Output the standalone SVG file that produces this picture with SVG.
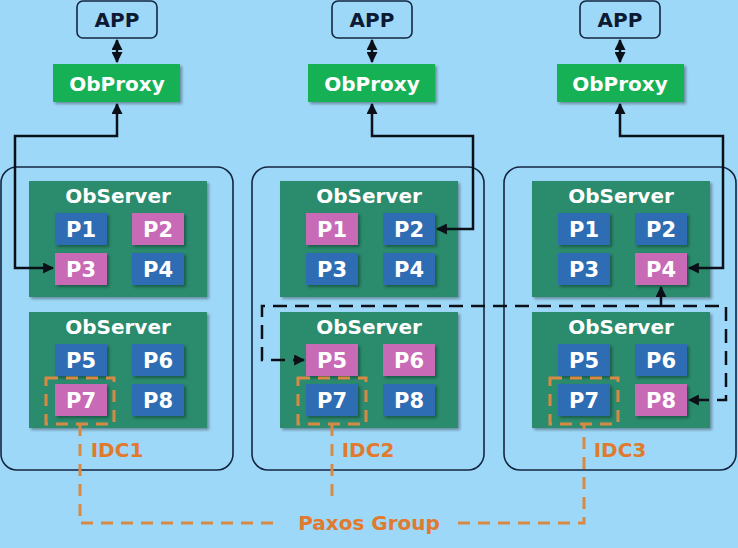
<svg xmlns="http://www.w3.org/2000/svg" width="738" height="548" viewBox="0 0 738 548">
<style>
.t{font-family:"DejaVu Sans","Verdana",sans-serif;font-weight:bold;font-size:20px;text-anchor:middle}
.p{font-size:21px}
.w{fill:#ffffff}
.app{fill:#9ed8f8;stroke:#142540;stroke-width:1.6}
.prx{fill:#17b055}
.srv{fill:#2b8b6d}
.pb{fill:#2d6db3}
.pp{fill:#c86bb6}
.idc{fill:none;stroke:#142540;stroke-width:1.6}
.ln{fill:none;stroke:#0a0f18;stroke-width:2.5}
.dl{fill:none;stroke:#0a0f18;stroke-width:2.5;stroke-dasharray:14 8}
.ol{fill:none;stroke:#d88a45;stroke-width:3;stroke-dasharray:12 8}
.lab{fill:#e07a2e}
</style>
<defs>
<filter id="sh" x="-10%" y="-10%" width="130%" height="140%">
<feDropShadow dx="2" dy="2" stdDeviation="1.5" flood-color="#000" flood-opacity="0.35"/>
</filter>
<marker id="ah" viewBox="0 0 10 10" refX="9" refY="5" markerWidth="4.4" markerHeight="4.4" orient="auto-start-reverse" markerUnits="strokeWidth">
<path d="M0,0 L10,5 L0,10 z" fill="#0a0f18"/>
</marker>
</defs>
<rect width="738" height="548" fill="#9ed8f8"/>

<g id="idc1">
<rect class="idc" x="1" y="167" width="232" height="303" rx="16"/>
<text class="t lab" x="117" y="457">IDC1</text>
</g>
<g id="idc2">
<rect class="idc" x="252" y="167" width="232" height="303" rx="16"/>
<text class="t lab" x="368" y="457">IDC2</text>
</g>
<g id="idc3">
<rect class="idc" x="504" y="167" width="232" height="303" rx="16"/>
<text class="t lab" x="620" y="457">IDC3</text>
</g>

<g id="app1"><rect class="app" x="77" y="1" width="80" height="37" rx="6"/><text class="t" fill="#0d1a33" x="117" y="27">APP</text></g>
<g id="app2"><rect class="app" x="332" y="1" width="80" height="37" rx="6"/><text class="t" fill="#0d1a33" x="372" y="27">APP</text></g>
<g id="app3"><rect class="app" x="580" y="1" width="80" height="37" rx="6"/><text class="t" fill="#0d1a33" x="620" y="27">APP</text></g>

<g id="proxy1"><rect class="prx" filter="url(#sh)" x="53" y="64" width="127" height="38"/><text class="t w" x="117" y="91">ObProxy</text></g>
<g id="proxy2"><rect class="prx" filter="url(#sh)" x="308" y="64" width="127" height="38"/><text class="t w" x="372" y="91">ObProxy</text></g>
<g id="proxy3"><rect class="prx" filter="url(#sh)" x="557" y="64" width="127" height="38"/><text class="t w" x="620" y="91">ObProxy</text></g>

<!-- IDC1 servers -->
<g id="s1a">
<rect class="srv" filter="url(#sh)" x="29" y="181" width="178" height="116"/>
<text class="t w" x="118" y="203">ObServer</text>
<rect class="pb" filter="url(#sh)" x="55" y="213" width="52" height="32"/><text class="t p w" x="81" y="237">P1</text>
<rect class="pp" filter="url(#sh)" x="132" y="213" width="52" height="32"/><text class="t p w" x="158" y="237">P2</text>
<rect class="pp" filter="url(#sh)" x="55" y="253" width="52" height="32"/><text class="t p w" x="81" y="277">P3</text>
<rect class="pb" filter="url(#sh)" x="132" y="253" width="52" height="32"/><text class="t p w" x="158" y="277">P4</text>
</g>
<g id="s1b">
<rect class="srv" filter="url(#sh)" x="29" y="312" width="178" height="116"/>
<text class="t w" x="118" y="334">ObServer</text>
<rect class="pb" filter="url(#sh)" x="55" y="344" width="52" height="32"/><text class="t p w" x="81" y="368">P5</text>
<rect class="pb" filter="url(#sh)" x="132" y="344" width="52" height="32"/><text class="t p w" x="158" y="368">P6</text>
<rect class="pp" filter="url(#sh)" x="55" y="384" width="52" height="32"/><text class="t p w" x="81" y="408">P7</text>
<rect class="pb" filter="url(#sh)" x="132" y="384" width="52" height="32"/><text class="t p w" x="158" y="408">P8</text>
</g>

<!-- IDC2 servers -->
<g id="s2a">
<rect class="srv" filter="url(#sh)" x="280" y="181" width="178" height="116"/>
<text class="t w" x="369" y="203">ObServer</text>
<rect class="pp" filter="url(#sh)" x="306" y="213" width="52" height="32"/><text class="t p w" x="332" y="237">P1</text>
<rect class="pb" filter="url(#sh)" x="383" y="213" width="52" height="32"/><text class="t p w" x="409" y="237">P2</text>
<rect class="pb" filter="url(#sh)" x="306" y="253" width="52" height="32"/><text class="t p w" x="332" y="277">P3</text>
<rect class="pb" filter="url(#sh)" x="383" y="253" width="52" height="32"/><text class="t p w" x="409" y="277">P4</text>
</g>
<g id="s2b">
<rect class="srv" filter="url(#sh)" x="280" y="312" width="178" height="116"/>
<text class="t w" x="369" y="334">ObServer</text>
<rect class="pp" filter="url(#sh)" x="306" y="344" width="52" height="32"/><text class="t p w" x="332" y="368">P5</text>
<rect class="pp" filter="url(#sh)" x="383" y="344" width="52" height="32"/><text class="t p w" x="409" y="368">P6</text>
<rect class="pb" filter="url(#sh)" x="306" y="384" width="52" height="32"/><text class="t p w" x="332" y="408">P7</text>
<rect class="pb" filter="url(#sh)" x="383" y="384" width="52" height="32"/><text class="t p w" x="409" y="408">P8</text>
</g>

<!-- IDC3 servers -->
<g id="s3a">
<rect class="srv" filter="url(#sh)" x="532" y="181" width="178" height="116"/>
<text class="t w" x="621" y="203">ObServer</text>
<rect class="pb" filter="url(#sh)" x="558" y="213" width="52" height="32"/><text class="t p w" x="584" y="237">P1</text>
<rect class="pb" filter="url(#sh)" x="635" y="213" width="52" height="32"/><text class="t p w" x="661" y="237">P2</text>
<rect class="pb" filter="url(#sh)" x="558" y="253" width="52" height="32"/><text class="t p w" x="584" y="277">P3</text>
<rect class="pp" filter="url(#sh)" x="635" y="253" width="52" height="32"/><text class="t p w" x="661" y="277">P4</text>
</g>
<g id="s3b">
<rect class="srv" filter="url(#sh)" x="532" y="312" width="178" height="116"/>
<text class="t w" x="621" y="334">ObServer</text>
<rect class="pb" filter="url(#sh)" x="558" y="344" width="52" height="32"/><text class="t p w" x="584" y="368">P5</text>
<rect class="pb" filter="url(#sh)" x="635" y="344" width="52" height="32"/><text class="t p w" x="661" y="368">P6</text>
<rect class="pb" filter="url(#sh)" x="558" y="384" width="52" height="32"/><text class="t p w" x="584" y="408">P7</text>
<rect class="pp" filter="url(#sh)" x="635" y="384" width="52" height="32"/><text class="t p w" x="661" y="408">P8</text>
</g>

<g id="connectors">
<path class="ln" d="M117,40 V62" marker-start="url(#ah)" marker-end="url(#ah)"/>
<path class="ln" d="M372,40 V62" marker-start="url(#ah)" marker-end="url(#ah)"/>
<path class="ln" d="M620,40 V62" marker-start="url(#ah)" marker-end="url(#ah)"/>
<path class="ln" d="M53,268 H15 V136 H117 V104" marker-start="url(#ah)" marker-end="url(#ah)"/>
<path class="ln" d="M437,229 H473 V136 H372 V104" marker-start="url(#ah)" marker-end="url(#ah)"/>
<path class="ln" d="M689,268 H723 V136 H620 V104" marker-start="url(#ah)" marker-end="url(#ah)"/>
<path class="ln" d="M661,306 V287" marker-end="url(#ah)"/>
<path class="dl" d="M661,306 H262 V360 H304" marker-end="url(#ah)"/>
<path class="dl" d="M661,306 H726 V400 H689" marker-end="url(#ah)"/>
</g>

<g id="paxos">
<rect class="ol" x="46" y="378" width="68" height="46"/>
<rect class="ol" x="298" y="378" width="68" height="46"/>
<rect class="ol" x="550" y="378" width="68" height="46"/>
<path class="ol" d="M80,424 V523 H281"/>
<path class="ol" d="M332,424 V503"/>
<path class="ol" d="M458,523 H584 V424"/>
<text class="t lab" x="369" y="530">Paxos Group</text>
</g>
</svg>
